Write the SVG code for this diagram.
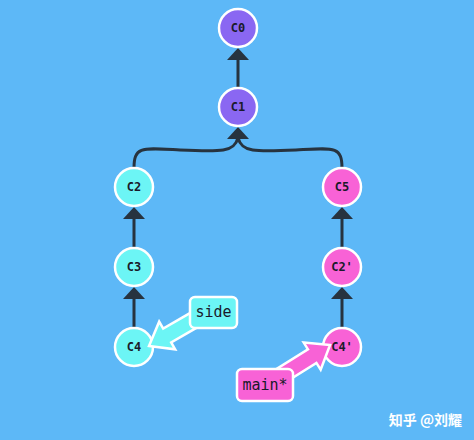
<svg xmlns="http://www.w3.org/2000/svg" width="474" height="440" viewBox="0 0 474 440">
<defs>
<style>
.edge{fill:none;stroke:#27333f;stroke-width:3}
.head{fill:#27333f}
.node circle{stroke:#ffffff;stroke-width:2.5}
.p circle{fill:#8a67f2}
.c circle{fill:#6cf5f5}
.m circle{fill:#f862d6}
.lbl{font-family:"DejaVu Sans Mono","Liberation Mono",monospace;font-weight:bold;font-size:12px;fill:#1a1a2a;text-anchor:middle}
.tag{font-family:"DejaVu Sans Mono","Liberation Mono",monospace;font-size:15px;fill:#1a1a2a;text-anchor:middle}
.tagbox{stroke:#ffffff;stroke-width:2.5}
.fat{stroke:#ffffff;stroke-width:2.5;stroke-linejoin:miter}
</style>
<polygon id="ah" points="0,0 -11,12 11,12" class="head"/>
</defs>
<rect width="474" height="440" fill="#5db8f7"/>
<g id="connectors">
<line class="edge" x1="238" y1="88" x2="238" y2="58"/>
<use href="#ah" x="238" y="48"/>
<path class="edge" d="M134,168 C134,146 142,148 180,150 C222,152 234,152 238,138"/>
<path class="edge" d="M342,168 C342,146 334,148 296,150 C254,152 242,152 238,138"/>
<use href="#ah" x="238" y="127"/>
<line class="edge" x1="134" y1="248" x2="134" y2="217"/>
<use href="#ah" x="134" y="207"/>
<line class="edge" x1="134" y1="328" x2="134" y2="297"/>
<use href="#ah" x="134" y="287"/>
<line class="edge" x1="342" y1="248" x2="342" y2="217"/>
<use href="#ah" x="342" y="207"/>
<line class="edge" x1="342" y1="328" x2="342" y2="297"/>
<use href="#ah" x="342" y="287"/>
</g>
<g id="C0" class="node p"><circle cx="238" cy="28" r="19"/><text class="lbl" x="238" y="32">C0</text></g>
<g id="C1" class="node p"><circle cx="238" cy="107" r="19"/><text class="lbl" x="238" y="111">C1</text></g>
<g id="C2" class="node c"><circle cx="134" cy="187" r="19"/><text class="lbl" x="134" y="191">C2</text></g>
<g id="C3" class="node c"><circle cx="134" cy="267" r="19"/><text class="lbl" x="134" y="271">C3</text></g>
<g id="C4" class="node c"><circle cx="134" cy="347" r="19"/><text class="lbl" x="134" y="351">C4</text></g>
<g id="C5" class="node m"><circle cx="342" cy="187" r="19"/><text class="lbl" x="342" y="191">C5</text></g>
<g id="C2p" class="node m"><circle cx="342" cy="267" r="19"/><text class="lbl" x="342" y="271">C2'</text></g>
<g id="C4p" class="node m"><circle cx="342" cy="347" r="19"/><text class="lbl" x="342" y="351">C4'</text></g>
<g id="side">
<polygon class="fat" transform="translate(149,346) rotate(150)" points="0,0 -21,-16 -21,-8 -70,-8 -70,8 -21,8 -21,16" fill="#6cf5f5"/>
<rect class="tagbox" x="190" y="297" width="47" height="31" rx="5" fill="#6cf5f5"/>
<text class="tag" x="213.5" y="317">side</text>
</g>
<g id="main">
<polygon class="fat" transform="translate(330,345) rotate(-32)" points="0,0 -21,-16 -21,-8 -75,-8 -75,8 -21,8 -21,16" fill="#f862d6"/>
<rect class="tagbox" x="237" y="369" width="56" height="32" rx="5" fill="#f862d6"/>
<text class="tag" x="265" y="390">main*</text>
</g>
<text x="462" y="425" text-anchor="end" font-family="'Noto Sans CJK SC',sans-serif" font-size="14" font-weight="bold" fill="#ffffff">知乎 @刘耀</text>
</svg>
